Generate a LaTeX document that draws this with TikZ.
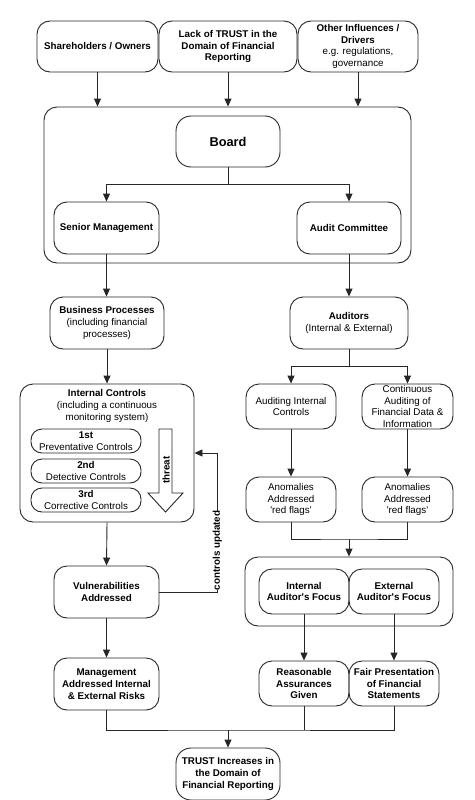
\documentclass[tikz,border=0pt]{standalone}
\usepackage{fontspec}
\setmainfont{Liberation Sans}
\usetikzlibrary{arrows.meta}

\begin{document}
\begin{tikzpicture}[x=1pt,y=-1pt,
        box/.style={draw=black!85, line width=0.9pt, rounded corners=13pt, align=center,
            inner sep=0pt, font=\fontsize{9.8}{11.7}\selectfont},
        bold/.style={font=\fontsize{9.8}{11.7}\selectfont\bfseries},
        pill/.style={box, rounded corners=11pt},
        ln/.style={draw=black!85, line width=0.9pt},
        arr/.style={ln, -{Triangle[length=8pt,width=7pt]}}]
        \useasboundingbox (0,0) rectangle (474,800);

        % influences
        \node[box, bold, minimum width=121pt, minimum height=51pt] (share) at (97.5,46.5) {Shareholders / Owners};
        \node[box, bold, minimum width=138pt, minimum height=51pt] (lack) at (228,46.5) {Lack of TRUST in the\\Domain of Financial\\Reporting};
        \node[box, minimum width=120pt, minimum height=51pt] (other) at (358,46.5) {\textbf{Other Influences /}\\\textbf{Drivers}\\e.g. regulations,\\governance};

        % governance
        \node[box, minimum width=367pt, minimum height=156pt] (boardgrp) at (227.5,185) {};
        \node[box, rounded corners=15pt, font=\fontsize{12.8}{15}\selectfont\bfseries, minimum width=104pt, minimum height=51pt] (board) at (228,141.5) {Board};
        \node[box, bold, minimum width=105pt, minimum height=52pt] (senior) at (106.5,228) {Senior Management};
        \node[box, bold, minimum width=104pt, minimum height=52pt] (audit) at (349,228) {Audit Committee};

        % left branch
        \node[box, minimum width=114pt, minimum height=52pt] (business) at (107,323) {\textbf{Business Processes}\\(including financial\\processes)};
        \node[box, minimum width=174pt, minimum height=138pt] (intctrl) at (107,453) {};
        \node[align=center, inner sep=0pt, font=\fontsize{9.8}{11.7}\selectfont] (intctrltxt) at (107,406) {\textbf{Internal Controls}\\(including a continuous\\monitoring system)};
        \node[pill, minimum width=110pt, minimum height=24pt] (first) at (86,441) {\textbf{1st}\\Preventative Controls};
        \node[pill, minimum width=110pt, minimum height=24pt] (second) at (86,471) {\textbf{2nd}\\Detective Controls};
        \node[pill, minimum width=110pt, minimum height=24pt] (third) at (86,500) {\textbf{3rd}\\Corrective Controls};
        \draw[ln, fill=white] (159,429) -- (172,429) -- (172,493) -- (183,493) -- (165.5,512) -- (148,493) -- (159,493) -- cycle;
        \node[bold, rotate=90, inner sep=0pt] (threatlbl) at (166,470) {threat};
        \node[box, bold, minimum width=105pt, minimum height=52pt] (vuln) at (106.5,592) {Vulnerabilities\\Addressed};
        \node[box, bold, minimum width=105pt, minimum height=52pt] (mgmt) at (106.5,684) {Management\\Addressed Internal\\\& External Risks};

        % right branch
        \node[box, minimum width=118pt, minimum height=52pt] (auditors) at (349,323) {\textbf{Auditors}\\(Internal \& External)};
        \node[box, minimum width=90pt, minimum height=45pt] (audint) at (291,406.5) {Auditing Internal\\Controls};
        \node[box, minimum width=91pt, minimum height=45pt] (contaud) at (407.5,406.5) {Continuous\\Auditing of\\Financial Data \&\\Information};
        \node[box, minimum width=90pt, minimum height=45pt] (anomint) at (291,499.5) {Anomalies\\Addressed\\\textquotesingle red flags\textquotesingle};
        \node[box, minimum width=91pt, minimum height=45pt] (anomcont) at (407.5,499.5) {Anomalies\\Addressed\\\textquotesingle red flags\textquotesingle};
        \node[box, minimum width=208pt, minimum height=69pt] (focusgrp) at (349,591.5) {};
        \node[box, bold, minimum width=90pt, minimum height=45pt] (intfocus) at (304,591.5) {Internal\\Auditor\textquotesingle s Focus};
        \node[box, bold, minimum width=90pt, minimum height=45pt] (extfocus) at (394,591.5) {External\\Auditor\textquotesingle s Focus};
        \node[box, bold, minimum width=90pt, minimum height=45pt] (reason) at (304,683.5) {Reasonable\\Assurances\\Given};
        \node[box, bold, minimum width=90pt, minimum height=45pt] (fair) at (394,683.5) {Fair Presentation\\of Financial\\Statements};

        % outcome
        \node[box, bold, rounded corners=15pt, minimum width=104pt, minimum height=52pt] (trust) at (228,774) {TRUST Increases in\\the Domain of\\Financial Reporting};

        % joins
        \coordinate (boardjoin) at (228,184);
        \coordinate (auditjoin) at (349,366);
        \coordinate (anomjoin) at (349,539);
        \coordinate (trustjoin) at (228,730);

        % connectors
        \draw[arr] (share.south) -- (share.south |- boardgrp.north);
        \draw[arr] (lack.south) -- (lack.south |- boardgrp.north);
        \draw[arr] (other.south) -- (other.south |- boardgrp.north);
        \draw[ln] (board.south) -- (boardjoin);
        \draw[arr] (boardjoin) -| (senior.north);
        \draw[arr] (boardjoin) -| (audit.north);
        \draw[arr] (senior.south) -- (senior.south |- business.north);
        \draw[arr] (audit.south) -- (auditors.north);
        \draw[arr] (business.south) -- (business.south |- intctrl.north);
        \draw[arr] (intctrl.south) -- (vuln.north);
        \draw[arr] (vuln.south) -- (mgmt.north);
        \draw[arr] (vuln.east) -- ++(58,0) |- (intctrl.east)
            node[bold, pos=0.15, rotate=90, fill=white, inner sep=0pt] (updlbl) {controls updated};
        \draw[ln] (auditors.south) -- (auditjoin);
        \draw[arr] (auditjoin) -| (audint.north);
        \draw[arr] (auditjoin) -| (contaud.north);
        \draw[arr] (audint.south) -- (anomint.north);
        \draw[arr] (contaud.south) -- (anomcont.north);
        \draw[ln] (anomint.south) |- (anomjoin) -| (anomcont.south);
        \draw[arr] (anomjoin) -- (focusgrp.north);
        \draw[arr] (intfocus.south) -- (reason.north);
        \draw[arr] (extfocus.south) -- (fair.north);
        \draw[ln] (mgmt.south) |- (trustjoin) -| (fair.south);
        \draw[ln] (reason.south) -- (reason.south |- trustjoin);
        \draw[arr] (trustjoin) -- (trust.north);
    \end{tikzpicture}
\end{document}
